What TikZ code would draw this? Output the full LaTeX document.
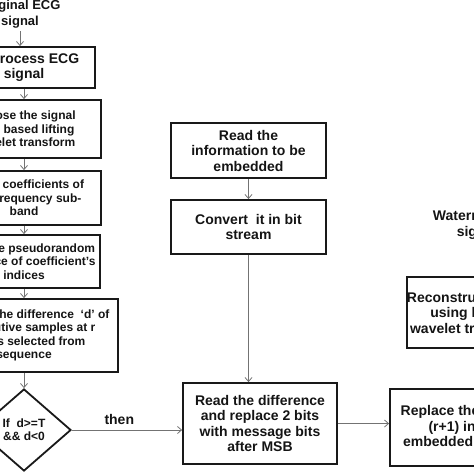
\documentclass[tikz,border=0pt]{standalone}
\usepackage{fontspec}
\setmainfont{Liberation Sans}
\usetikzlibrary{positioning,shapes.geometric,arrows.meta}
\tikzset{
  every node/.style={
    text=black!92
  },
  blk/.style={draw=black!90, line width=1.8pt, inner sep=0pt, align=center,
    font=\fontsize{14}{15.5}\selectfont\bfseries},
  sblk/.style={blk, font=\fontsize{12}{13.3}\selectfont\bfseries},
  test/.style={diamond, draw=black!90, line width=1.8pt, inner sep=0pt, align=center,
    minimum width=94pt, minimum height=82pt, font=\fontsize{12}{13}\selectfont\bfseries},
  lbl/.style={align=center, font=\fontsize{14}{15.5}\selectfont\bfseries},
  flow/.style={draw=black!55, line width=0.8pt, -{Straight Barb[length=4pt,width=7pt]}}
}

\begin{document}
\begin{tikzpicture}[x=1pt, y=-1pt]
      \useasboundingbox (0,0) rectangle (474,474);
      \clip (0,0) rectangle (474,474);

      \node [lbl, font=\fontsize{13}{15.5}\selectfont\bfseries] (Src) at (20,14) {Original ECG\\signal};
      \node [blk, on grid, below right=53.5pt and 4pt of Src, minimum width=142pt, minimum height=41pt] (Pre) {Preprocess ECG\\signal};
      \node [sblk, on grid, below=61.5pt of Pre, minimum width=154pt, minimum height=58pt] (Lwt) {Choose the signal\\Haar based lifting\\wavelet transform};
      \node [sblk, on grid, below=69pt of Lwt, minimum width=154pt, minimum height=54pt] (Coef) {Select coefficients of\\high frequency sub-\\band};
      \node [sblk, on grid, below=63.5pt of Coef, minimum width=152pt, minimum height=53pt] (Seq) {Generate pseudorandom\\sequence of coefficient's\\indices};
      \node [sblk, on grid, below=74pt of Seq, minimum width=188pt, minimum height=73pt] (Calc) {Calculate the difference~ `d' of\\consecutive samples at r\\indices selected from\\sequence};
      \node [test, on grid, below=94.5pt of Calc] (Cond) {If~ d>=T\\\&\& d<0};

      \node [blk, on grid, below right=21.5pt and 224.5pt of Lwt, minimum width=155pt, minimum height=55pt] (Info) {Read the\\information to be\\embedded};
      \node [blk, on grid, below=76.5pt of Info, minimum width=155pt, minimum height=54pt] (Bits) {Convert~ it in bit\\stream};
      \node [blk, on grid, below right=196.5pt and 11.5pt of Bits, minimum width=154pt, minimum height=81pt] (Diff) {Read the difference\\and replace 2 bits\\with message bits\\after MSB};

      \node [blk, on grid, below right=4pt and 210pt of Diff, minimum width=160pt, minimum height=77pt] (Repl) {Replace the selected\\(r+1) indices\\embedded message};
      \node [blk, on grid, above=115pt of Repl, minimum width=124pt, minimum height=71pt] (Recon) {Reconstruct signal\\using lifting\\wavelet transform};
      \node [lbl, on grid, above right=87.5pt and 7pt of Recon] (Wm) {Watermarked\\signal};

      \draw [flow] (Src.south) -- (Src.south |- Pre.north);
      \draw [flow] (Pre) -- (Lwt);
      \draw [flow] (Lwt) -- (Coef);
      \draw [flow] (Coef) -- (Seq);
      \draw [flow] (Seq) -- (Calc);
      \draw [flow] (Calc) -- (Cond);
      \draw [flow] (Info) -- (Bits);
      \draw [flow] (Bits.south) -- (Bits.south |- Diff.north);
      \draw [flow] (Cond.east) -- (Cond.east -| Diff.west)
        node [lbl, above=2pt, pos=.43] (Then) {then};
      \draw [flow] (Diff.east) -- (Diff.east -| Repl.west);
    \end{tikzpicture}
\end{document}
